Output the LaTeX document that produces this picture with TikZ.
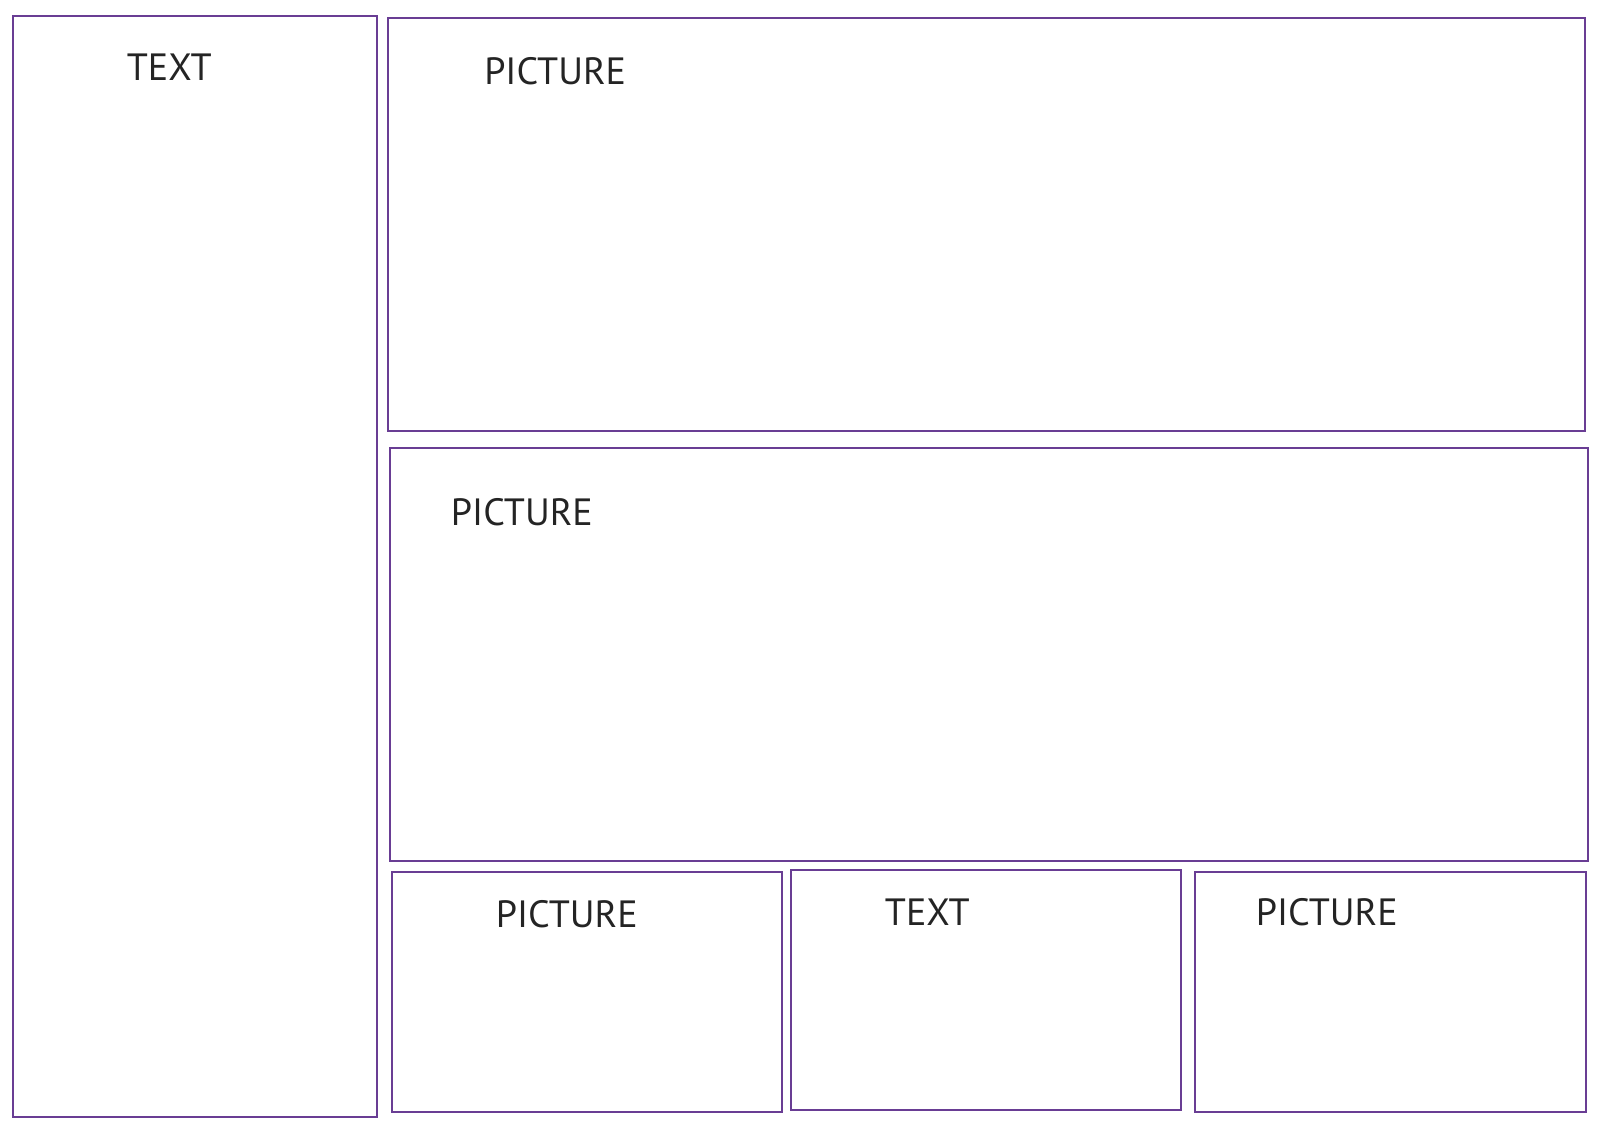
\documentclass[tikz,border=0pt]{standalone}
\usepackage{fontspec}
\setmainfont{PT Sans}
\usepackage{tikz}
\usetikzlibrary{positioning}
\definecolor{frame}{rgb}{0.41, 0.24, 0.58}
\definecolor{ink}{rgb}{0.14, 0.14, 0.14}
\tikzstyle{panel} = [draw=frame,line width=2pt,inner sep=0pt,rectangle]
\tikzstyle{tag} = [inner sep=0pt,anchor=base west,text=ink,font=\fontsize{38}{44}\selectfont]

\begin{document}
\begin{tikzpicture}[x=1pt,y=-1pt]
		\useasboundingbox (0,0) rectangle (1600,1131);
		\node [panel,minimum width=363.4pt,minimum height=1100.7pt] (textl) at (195,566.3) {};
		\node [panel,minimum width=1196.7pt,minimum height=412.7pt] (pictop) at (986.7,224.7) {};
		\node [panel,minimum width=1197.5pt,minimum height=412.4pt] (picmid) at (988.8,654.5) {};
		\node [panel,minimum width=390pt,minimum height=240.6pt] (picbl) at (586.7,992) {};
		\node [panel,minimum width=390pt,minimum height=240.2pt] (textbm) at (986,990.1) {};
		\node [panel,minimum width=390.7pt,minimum height=240pt] (picbr) at (1390.3,992.3) {};
		
		\node [tag,xshift=114.4pt,yshift=-66pt] (ltextl) at (textl.north west) {TEXT};
		\node [tag,xshift=96.7pt,yshift=-67pt] (lpictop) at (pictop.north west) {PICTURE};
		\node [tag,xshift=61.7pt,yshift=-78.5pt] (lpicmid) at (picmid.north west) {PICTURE};
		\node [tag,xshift=105pt,yshift=-57pt] (lpicbl) at (picbl.north west) {PICTURE};
		\node [tag,xshift=94.7pt,yshift=-56pt] (ltextbm) at (textbm.north west) {TEXT};
		\node [tag,xshift=61.7pt,yshift=-54pt] (lpicbr) at (picbr.north west) {PICTURE};
		\end{tikzpicture}
\end{document}
